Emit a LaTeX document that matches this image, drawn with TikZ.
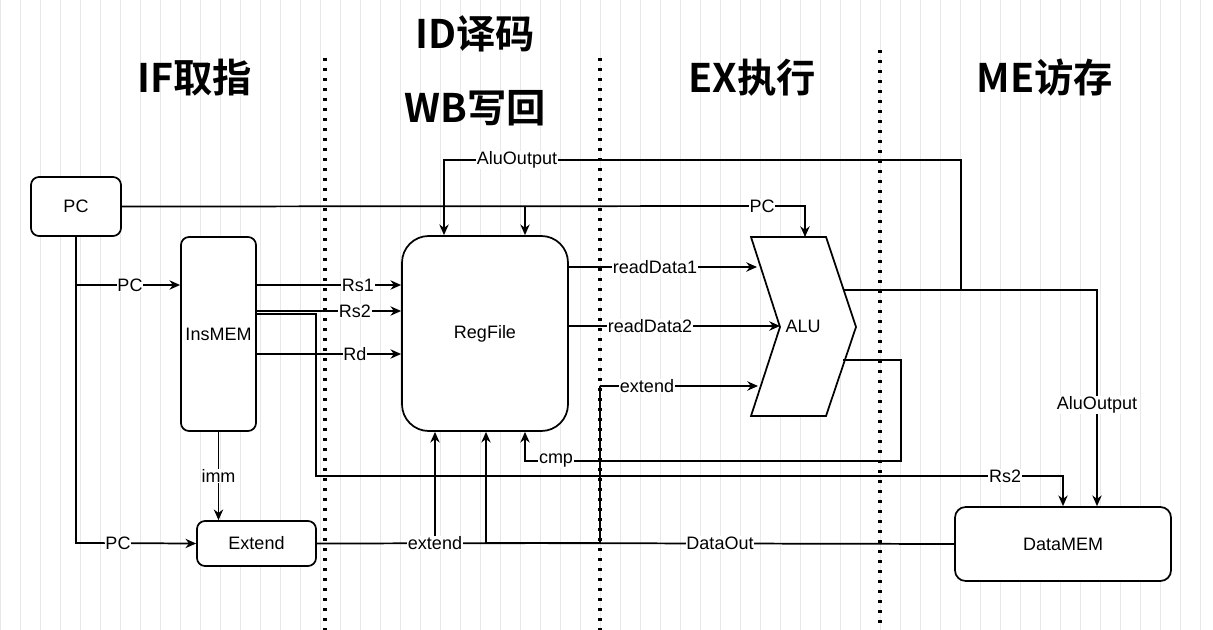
\documentclass[tikz,border=0pt]{standalone}
\usepackage{fontspec}
\setmainfont{Liberation Sans}
\newfontfamily\cjk{Noto Sans CJK SC}[BoldFont={* Bold}]
\usetikzlibrary{arrows.meta,calc}
\begin{document}
\begin{tikzpicture}[x=0.75pt,y=-0.75pt,
  box/.style={draw,line width=1.3pt,rounded corners=6pt,fill=white,font=\fontsize{13.5}{15}\selectfont,inner sep=0pt},
  wire/.style={line width=1.3pt},
  arr/.style={wire,-{Stealth[length=8pt,width=7pt]}},
  lbl/.style={fill=white,inner sep=0.5pt,font=\fontsize{13.5}{15}\selectfont},
  ttl/.style={font=\cjk\bfseries\fontsize{29.5}{32}\selectfont},
  sep/.style={line width=2.4pt,dash pattern=on 2.2pt off 5.3pt}]
\useasboundingbox (0,0) rectangle (1213,630);
\fill[white] (0,0) rectangle (1213,630);
\draw[gray!18,line width=0.4pt] (0,0) grid[step=20] (1213,630);
% separators
\draw[sep] (325,58) -- (325,630);
\draw[sep] (600,58) -- (600,630);
\draw[sep] (880,50) -- (880,630);
% titles
\node[ttl] (t1) at (195,78) {IF取指};
\node[ttl] (t2) at (475,34) {ID译码};
\node[ttl] (t3) at (475,108) {WB写回};
\node[ttl] (t4) at (752,78) {EX执行};
\node[ttl] (t5) at (1045,78) {ME访存};
% boxes
\node[box,minimum width=67.5pt,minimum height=44.25pt] (pc) at (76,206.5) {PC};
\node[box,minimum width=56.25pt,minimum height=145.5pt] (ins) at (218.5,334) {InsMEM};
\node[box,minimum width=89.25pt,minimum height=33.75pt] (ext) at (256.5,543.5) {Extend};
\node[box,rounded corners=20pt,minimum width=124.5pt,minimum height=146.25pt] (rf) at (485,333.5) {RegFile};
\node[box,rounded corners=8pt,minimum width=162pt,minimum height=55.5pt] (dm) at (1063,544) {DataMEM};
\draw[line width=1.3pt,fill=white] (751,237) -- (826,237) -- (856,327) -- (826,416) -- (751,416) -- (780,327) -- cycle;
\node[font=\fontsize{13.5}{15}\selectfont] (alu) at (803,326) {ALU};
\coordinate (aluout) at (843,290);
\coordinate (alucmp) at (843,360);
% PC wires
\draw[arr] (pc.east) -- (805,206) -- (805,237);
\draw[arr] (525,206) -- (rf.north -| 525,0);
\node[lbl] at (762,206) {PC};
\draw[arr] (pc.south) -- (76,543) -- (ext.west);
\node[lbl] at (118,543) {PC};
\draw[arr] (76,285) -- (ins.west |- 0,285);
\node[lbl] at (130,285) {PC};
% InsMEM -> RegFile
\draw[arr] (ins.east |- 0,285) -- (rf.west |- 0,285) node[lbl,pos=0.7] {Rs1};
\draw[arr] (ins.east |- 0,311) -- (rf.west |- 0,311) node[lbl,pos=0.68] {Rs2};
\draw[arr] (ins.east |- 0,354) -- (rf.west |- 0,354) node[lbl,pos=0.68] {Rd};
\draw[arr] (ins.east |- 0,314) -- (316,314) -- (316,476) -- (1063,476) -- (dm.north -| 1063,0);
\node[lbl] at (1005,476) {Rs2};
\draw[arr] (ins.south) -- (ext.north -| ins.south) node[lbl,midway] {imm};
% Extend
\draw[wire] (ext.east) -- (600,543) -- (600,386);
\draw[arr] (600,386) -- (758,386);
\node[lbl] at (647,386) {extend};
\draw[arr] (435,543) -- (rf.south -| 435,0);
\node[lbl] at (435,543) {extend};
% DataOut
\draw[wire] (dm.west) -- (486,543);
\draw[arr] (486,543) -- (rf.south -| 486,0);
\node[lbl] at (720,543) {DataOut};
% RegFile -> ALU
\draw[arr] (rf.east |- 0,267) -- (757,267);
\node[lbl] at (655,267) {readData1};
\draw[arr] (rf.east |- 0,326) -- (780,326);
\node[lbl] at (650,326) {readData2};
% ALU output
\draw[arr] (aluout) -- (1097,290) -- (dm.north -| 1097,0);
\node[lbl] at (1097,405) {AluOutput};
\draw[arr] (961,290) -- (961,160) -- (444,160) -- (rf.north -| 444,0);
\node[lbl] at (517,160) {AluOutput};
% cmp
\draw[arr] (alucmp) -- (901,360) -- (901,461) -- (525,461) -- (rf.south -| 525,0);
\node[lbl] at (556,461) {cmp};
\end{tikzpicture}
\end{document}
